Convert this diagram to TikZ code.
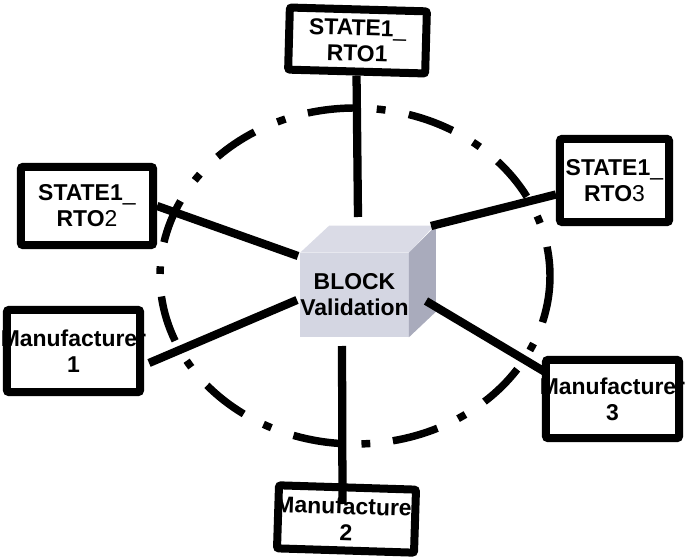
\documentclass[tikz,border=0pt]{standalone}
\usepackage{fontspec}
\setmainfont{Liberation Sans}
\usepackage{xcolor}
\definecolor{blockFace}{HTML}{D4D6E2}
\definecolor{blockTop}{HTML}{DADBE6}
\definecolor{blockSide}{HTML}{A9ABBC}
\usetikzlibrary{positioning, calc}
\tikzset{
  %% boxes round the ring
  peerBox/.style  = {draw=black, line width=6pt, rounded corners=1.5pt,
                     fill=white, inner sep=0pt, align=center,
                     font=\fontsize{17.2}{19.5}\selectfont\bfseries},
  %% connectors and the ring
  link/.style     = {draw=black, line width=6.2pt},
  ringPiece/.style = {draw=black, line width=5.6pt},
  blockFront/.style = {fill=blockFace, inner sep=0pt, align=center,
                     minimum width=80.2pt, minimum height=63pt,
                     font=\fontsize{17.2}{19.5}\selectfont\bfseries},
}

\begin{document}
\begin{tikzpicture}[x=0.75pt, y=-0.75pt]
\useasboundingbox (0,0) rectangle (685,559);

%% ring, dashes and dots
\foreach \a/\b in {-10/16, 23.7/26.3, 33.7/48.4, 55.5/58.1, 65/78.8, 85.5/88.1,
                   93.8/108.4, 115.4/118, 124.8/139.4, 147.1/149.7, 157.3/173,
                   180.7/183.3, 191.6/206.5, 214.7/217.3, 225.2/239, 246.5/249.1,
                   256/271, 276.4/279, 286/300, 307.2/309.8, 317/331.8, 339.1/341.7}
  \draw[ringPiece] (355,276) ++(\a:195 and 168)
       arc[start angle=\a, end angle=\b, x radius=195, y radius=168];

%% block
\node[blockFront] (block) at (354.5,295) {BLOCK\\Validation};
\fill[blockTop] (block.north west) -- ++(29,-27) -- ++(105,0) -- (block.north east) -- cycle;
\fill[blockSide] (block.north east) -- ++(27,-27) -- ++(0,86) -- (block.south east) -- cycle;

%% boxes
\node[peerBox, minimum width=102.8pt, minimum height=46.6pt, rotate=-1.6] (rto1) at (357.5,40.5)
     {STATE1\textmd{\_}\\RTO1};
\node[peerBox, minimum width=99.1pt, minimum height=58.6pt] (rto2) at (87,206)
     {STATE1\textmd{\_}\\RTO\textmd{2}};
\node[peerBox, minimum width=81.8pt, minimum height=62.3pt] (rto3) at (614.5,180.5)
     {STATE1\textmd{\_}\\RTO\textmd{3}};
\node[peerBox, minimum width=99.8pt, minimum height=61.6pt] (man1) at (73.5,351)
     {\makebox[0pt]{Manufacturer}\\1};
\node[peerBox, minimum width=102.8pt, minimum height=47.3pt, rotate=-1.8] (man2) at (346.5,519)
     {\makebox[0pt]{\hspace*{-5pt}Manufacture}\\2};
\node[peerBox, minimum width=99.8pt, minimum height=58.6pt] (man3) at (612.5,399)
     {\makebox[0pt]{Manufacturer}\\3};

%% free ends of the connectors
\coordinate (inTop) at (358,217);
\coordinate (inLeftUp) at (298,256);
\coordinate (inLeftDown) at (297,300);
\coordinate (inRightUp) at (431,226);
\coordinate (inRightDown) at (426,301);
\coordinate (inBottom) at (342,346);
\coordinate (man1End) at ($(man1.east)+(5,12)$);
\coordinate (man2End) at ($(man2.center)+(-4,-15)$);
\coordinate (man3End) at ($(man3.north west)+(3,16)$);
\coordinate (rto3End) at ($(rto3.west)+(0,14)$);

\draw[link] (rto1.south) -- (inTop);
\draw[link] (rto2.east) -- (inLeftUp);
\draw[link] (rto3End) -- (inRightUp);
\draw[link] (man1End) -- (inLeftDown);
\draw[link] (man2End) -- (inBottom);
\draw[link] (man3End) -- (inRightDown);

\end{tikzpicture}
\end{document}
